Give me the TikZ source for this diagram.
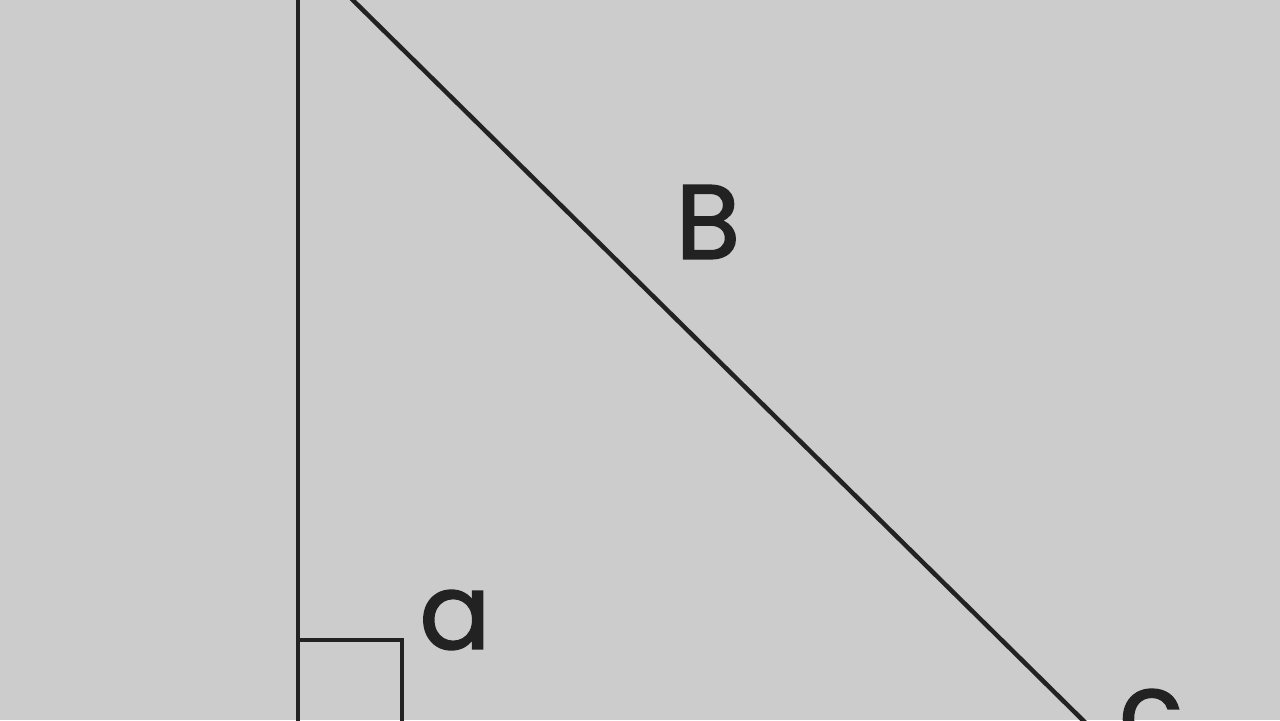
\documentclass[tikz,border=0pt]{standalone}
\usepackage{fontspec}
\newfontfamily\lblfont{Poppins}[FakeBold=1.6]
\usepackage{tikz}
\usetikzlibrary{positioning}
\definecolor{bgGray}{HTML}{CCCCCC}
\definecolor{inkDark}{HTML}{222222}
\tikzset{s/.style={draw, inkDark, line width=0.09cm}}
\tikzset{lbl/.style={inkDark, inner sep=0pt, font=\lblfont\fontsize{60}{66}\selectfont}}

\begin{document}
\begin{tikzpicture}[x=0.02cm, y=-0.02cm]
        \useasboundingbox (0,0) rectangle (1280,720);
        \fill[bgGray] (0,0) rectangle (1280,720);
        \clip (0,0) rectangle (1280,720);
        %% vertices
        \coordinate (top) at (298,-54);
        \coordinate (rt) at (298,744);
        \coordinate (far) at (1107,744);
        %% right angle mark
        \coordinate (m1) at (298,640);
        \coordinate (m2) at (402,640);
        \coordinate (m3) at (402,744);
        \draw [s] (top) to (rt); \draw [s] (top) to (far); \draw [s] (rt) to (far);
        \draw [s] (m1) -- (m2) -- (m3);
        %% labels
        \node (lb) at (708,222) [lbl] {B};
        \node (la) at (455,620) [lbl] {a};
        \node (lc) at (1151,719) [lbl] {c};
\end{tikzpicture}
\end{document}
